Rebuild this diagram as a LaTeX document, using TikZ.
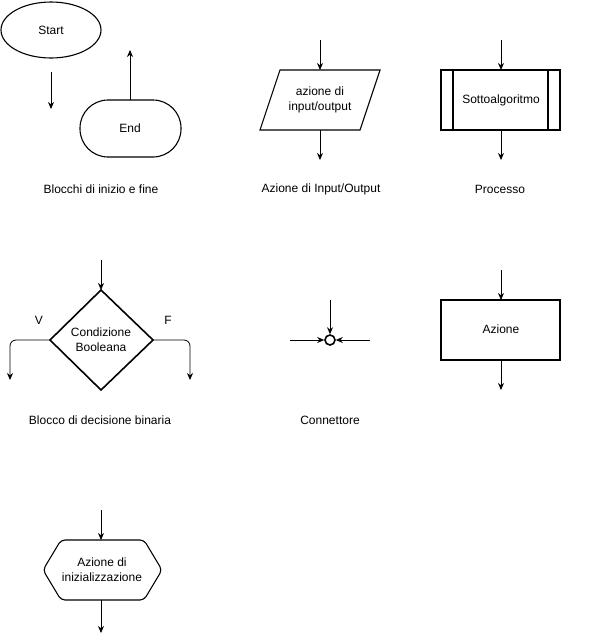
\documentclass[tikz,border=0pt]{standalone}
\usepackage{fontspec}
\setmainfont{Liberation Sans}
\usetikzlibrary{arrows.meta,shapes.geometric}
\begin{document}
\begin{tikzpicture}[x=1pt,y=-1pt,font=\fontsize{12}{15}\selectfont,
  line width=1.1pt,
  arr/.style={-{Stealth[length=7pt,width=6pt]},line width=0.8pt},
  lbl/.style={inner sep=0pt}]
\useasboundingbox (0,0) rectangle (602,643);
% Start / End
\draw (51,30) ellipse [x radius=50, y radius=28];
\node[lbl] (start) at (51,30) {Start};
\coordinate (s1) at (51,72); \coordinate (s2) at (51,109);
\draw[arr] (s1) -- (s2);
\draw[rounded corners=28pt] (80,100) rectangle (181,157);
\node[lbl] (end) at (130,128) {End};
\coordinate (e1) at (130,100); \coordinate (e2) at (130,50);
\draw[arr] (e1) -- (e2);
\node[lbl] (l1) at (101,189) {Blocchi di inizio e fine};
% IO
\draw (280,70) -- (380,70) -- (360,130) -- (260,130) -- cycle;
\node[lbl,align=center] (io) at (320,100) {azione di\\input/output};
\coordinate (i1) at (320,40); \coordinate (i2) at (320,70);
\coordinate (i3) at (320,130); \coordinate (i4) at (320,160);
\draw[arr] (i1) -- (i2); \draw[arr] (i3) -- (i4);
\node[lbl] (l2) at (321,189) {Azione di Input/Output};
% Process
\draw (441,70) rectangle (560,130);
\draw (453,70) -- (453,130); \draw (548,70) -- (548,130);
\node[lbl] (sub) at (501,100) {Sottoalgoritmo};
\coordinate (p1) at (501,40); \coordinate (p2) at (501,70);
\coordinate (p3) at (501,130); \coordinate (p4) at (501,160);
\draw[arr] (p1) -- (p2); \draw[arr] (p3) -- (p4);
\node[lbl] (l3) at (500,189) {Processo};
% Decision
\draw[line width=1.6pt] (101,290) -- (153,340) -- (101,390) -- (50,340) -- cycle;
\node[lbl,align=center] (cond) at (101,340) {Condizione\\Booleana};
\coordinate (d1) at (101,260); \coordinate (d2) at (101,290);
\draw[arr] (d1) -- (d2);
\coordinate (dl) at (50,340); \coordinate (dl2) at (10,380);
\coordinate (dr) at (153,340); \coordinate (dr2) at (190,380);
\draw[arr,rounded corners=6pt] (dl) -| (dl2);
\draw[arr,rounded corners=6pt] (dr) -| (dr2);
\node[lbl] (v) at (39,320) {V};
\node[lbl] (f) at (168,320) {F};
\node[lbl] (l4) at (100,420) {Blocco di decisione binaria};
% Connector
\node[circle,draw,line width=1.6pt,minimum size=10pt,inner sep=0pt] (c) at (330,340) {};
\coordinate (c1) at (290,340); \coordinate (c2) at (370,340); \coordinate (c3) at (330,300);
\draw[arr] (c1) -- (c.west); \draw[arr] (c2) -- (c.east); \draw[arr] (c3) -- (c.north);
\node[lbl] (l5) at (330,420) {Connettore};
% Azione
\draw (441,300) rectangle (560,360);
\node[lbl] (az) at (501,329) {Azione};
\coordinate (a1) at (501,270); \coordinate (a2) at (501,300);
\coordinate (a3) at (501,360); \coordinate (a4) at (501,390);
\draw[arr] (a1) -- (a2); \draw[arr] (a3) -- (a4);
% Hexagon
\draw[rounded corners=4pt] (43,570) -- (61,540) -- (144,540) -- (162,570) -- (144,600) -- (61,600) -- cycle;
\node[lbl,align=center] (ini) at (102,570) {Azione di\\inizializzazione};
\coordinate (h1) at (101,510); \coordinate (h2) at (101,540);
\coordinate (h3) at (101,600); \coordinate (h4) at (101,633);
\draw[arr] (h1) -- (h2); \draw[arr] (h3) -- (h4);
\end{tikzpicture}
\end{document}
